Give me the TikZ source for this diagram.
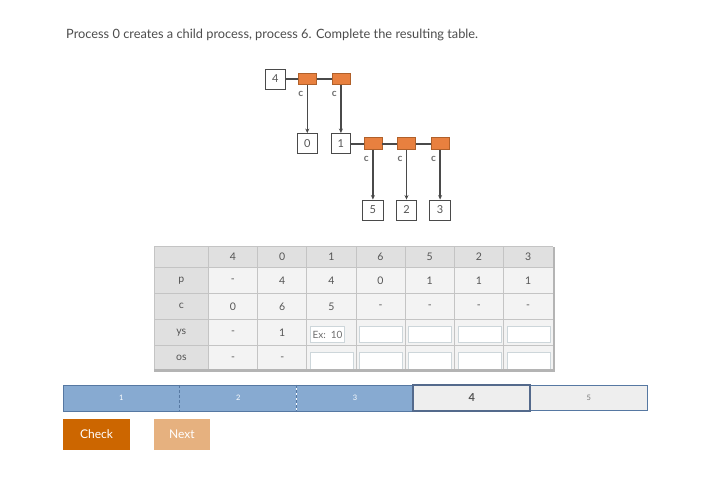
\documentclass[tikz,border=0pt]{standalone}
\usepackage{fontspec}
\setmainfont{Lato}
\usetikzlibrary{positioning, arrows.meta}

\definecolor{txtgrey}{HTML}{555555}
\definecolor{linegrey}{HTML}{4A4A4A}
\definecolor{forkfill}{HTML}{E8803F}
\definecolor{forkline}{HTML}{B0602A}
\definecolor{headfill}{HTML}{E0E0E0}
\definecolor{cellfill}{HTML}{F3F3F3}
\definecolor{gridgrey}{HTML}{C4C4C4}
\definecolor{shadegrey}{HTML}{B4B4B4}
\definecolor{inputline}{HTML}{CDD6DA}
\definecolor{barblue}{HTML}{87AAD1}
\definecolor{bardark}{HTML}{5678A2}
\definecolor{curline}{HTML}{546A8C}
\definecolor{barlight}{HTML}{EEEEEE}
\definecolor{checkfill}{HTML}{CC6600}
\definecolor{nextfill}{HTML}{E6B17F}

\begin{document}
\begin{tikzpicture}[
x=1pt, y=-1pt,
every node/.style={font=\fontsize{10.5}{12}\selectfont, text=txtgrey},
proc/.style={rectangle, draw=linegrey, fill=white, line width=0.9pt, minimum width=19.5pt, minimum height=20pt, inner sep=0pt, font=\fontsize{11}{12}\selectfont},
fork/.style={rectangle, draw=forkline, fill=forkfill, line width=0.6pt, minimum width=18pt, minimum height=11.5pt, inner sep=0pt},
link/.style={draw=linegrey, line width=2pt},
arrow/.style={-{Stealth[length=4.5pt,width=4pt]}, draw=linegrey, line width=1.3pt},
clab/.style={font=\fontsize{10}{10}\selectfont\bfseries, text=txtgrey!85},
cell/.style={inner sep=0pt},
inbox/.style={rectangle, draw=inputline, fill=white, line width=0.9pt, minimum width=43pt, minimum height=16pt, inner sep=0pt, anchor=north west},
segment/.style={rectangle, minimum width=116.4pt, minimum height=25.7pt, inner sep=0pt, font=\fontsize{7.5}{8}\selectfont},
button/.style={rectangle, minimum height=31pt, inner sep=0pt, text=white, font=\fontsize{12}{14}\selectfont}
]
\useasboundingbox (0,0) rectangle (703,483);

% QUESTION
\node (question) [anchor=base west, inner sep=0pt, text=txtgrey!90!black, font=\fontsize{12.8}{14}\selectfont] at (66,38.5) {Process 0 creates a child process, process 6. Complete the resulting table.};

% ARBOL
\node (p4) [proc] at (275.3,79) {4};
\node (f1) [fork, right=12.5pt of p4] {};
\node (f2) [fork, right=15pt of f1] {};
\node (p0) [proc, below=48pt of f1] {0};
\node (p1) [proc, below=48pt of f2] {1};
\node (g1) [fork, right=12.5pt of p1] {};
\node (g2) [fork, right=15pt of g1] {};
\node (g3) [fork, right=15pt of g2] {};
\node (p5) [proc, below=50pt of g1, minimum width=20.5pt] {5};
\node (p2) [proc, below=50pt of g2, minimum width=20.5pt] {2};
\node (p3) [proc, below=50pt of g3, minimum width=20.5pt] {3};

\foreach \f in {f1,f2,g1,g2,g3}
  \node (c-\f) [clab] at ([xshift=-6.5pt,yshift=-9pt]\f.south) {c};

\draw[link] (p4) -- (f1);
\draw[link] (f1) -- (f2);
\draw[link] (p1) -- (g1);
\draw[link] (g1) -- (g2);
\draw[link] (g2) -- (g3);

\draw[arrow] (f1) -- (p0);
\draw[arrow] (f2) -- (p1);
\draw[arrow] (g1) -- (p5);
\draw[arrow] (g2) -- (p2);
\draw[arrow] (g3) -- (p3);

% TABLA
\fill[cellfill] (154.3,246.7) rectangle (552.7,370.7);
\fill[headfill] (154.3,246.7) rectangle (552.7,267.3);
\fill[headfill] (154.3,267.3) rectangle (208.3,370.7);
\foreach \y in {246.7,267.3,293.3,319.3,345.3}
  \draw[gridgrey, line width=0.8pt] (154.3,\y) -- (552.7,\y);
\draw[gridgrey, line width=0.8pt] (154.3,246.7) -- (154.3,370.7);
\foreach \i in {0,...,6}
  \draw[gridgrey, line width=0.8pt] ({208.3+49.2*\i},246.7) -- ({208.3+49.2*\i},370.7);

\foreach \v [count=\i] in {4,0,1,6,5,2,3}
  \node (h-\i) [cell] at ({208.3+49.2*(\i-0.5)},257) {\v};
\foreach \r/\y in {p/280.3,c/306.3,ys/332.3,os/358.3}
  \node (\r-0) [cell] at (181.3,\y) {\r};
\foreach \v [count=\i] in {-,4,4,0,1,1,1}
  \node (p-\i) [cell] at ({208.3+49.2*(\i-0.5)},280.3) {\v};
\foreach \v [count=\i] in {0,6,5,-,-,-,-}
  \node (c-\i) [cell] at ({208.3+49.2*(\i-0.5)},306.3) {\v};
\node (ys-1) [cell] at (233,332.3) {-};
\node (ys-2) [cell] at (282.2,332.3) {1};
\node (os-1) [cell] at (233,358.3) {-};
\node (os-2) [cell] at (282.2,358.3) {-};

% campos
\node (ys-3) [inbox, minimum width=34.3pt, align=left, text width=32pt, font=\fontsize{10}{11}\selectfont, text=txtgrey!85] at (310,326) {\kern1pt Ex: 10};
\foreach \i in {4,...,7}
  \node (ys-\i) [inbox] at ({208.3+49.2*(\i-1)+3.3},326) {};
\foreach \i in {3,...,7}
  \node (os-\i) [inbox, minimum height=19pt] at ({208.3+49.2*(\i-1)+3.3},352) {};
\draw[shadegrey, line width=2.4pt] (154.3,370.6) -- (553.9,370.6) -- (553.9,246.7);

% PROGRESO
\node (s1) [segment, fill=barblue, text=white, anchor=west] at (63,398) {1};
\node (s2) [segment, fill=barblue, text=white, right=0pt of s1] {2};
\node (s3) [segment, fill=barblue, text=white, right=0pt of s2] {3};
\node (s4) [segment, fill=barlight, right=0pt of s3, font=\fontsize{11}{12}\selectfont\bfseries, text=txtgrey] {4};
\node (s5) [segment, fill=barlight, draw=bardark, line width=0.8pt, right=0pt of s4, text=txtgrey!80] {5};
\draw[bardark, line width=0.9pt] (s1.north west) rectangle (s3.south east);
\draw[bardark, line width=0.8pt, dash pattern=on 3pt off 2pt] (s1.north east) -- (s1.south east);
\draw[bardark, line width=0.8pt, dash pattern=on 3pt off 2pt] (s2.north east) -- (s2.south east);
\draw[curline, line width=2pt] (s4.north west) rectangle (s4.south east);

% BOTONES
\node (check) [button, fill=checkfill, minimum width=67pt] at (96.5,434.5) {Check};
\node (next) [button, fill=nextfill, minimum width=56pt] at (182,434.5) {Next};

\end{tikzpicture}
\end{document}
